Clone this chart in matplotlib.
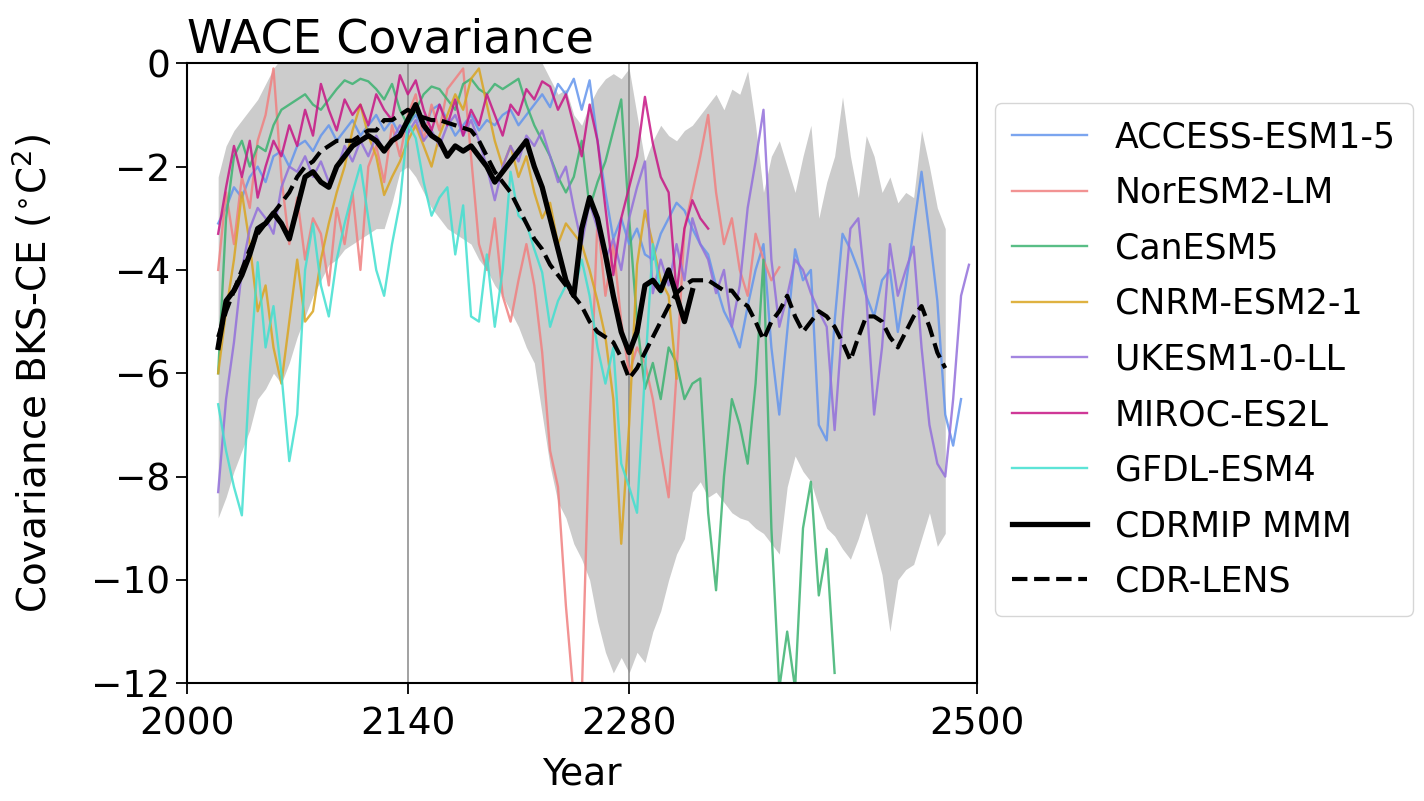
import numpy as np
import matplotlib
matplotlib.use("Agg")
import matplotlib.pyplot as plt

step = 5

access_start = 2020
access = [-3.1, -2.8, -2.4, -2.6, -2.2, -2.0, -2.3, -1.8, -1.7, -2.0, -1.6, -1.5, -1.7, -1.4, -1.2, -1.5,
          -1.3, -1.1, -1.4, -1.2, -1.0, -1.3, -1.1, -1.4, -1.2, -1.0, -1.3, -0.9, -0.8, -1.1, -1.4, -1.2,
          -1.0, -1.3, -1.1, -1.2, -1.0, -0.9, -1.2, -1.0, -0.8, -0.6, -0.85, -0.4, -0.6, -0.3, -0.9, -0.33,
          -1.5, -2.5, -3.4, -3.0, -3.5, -3.2, -3.7, -3.8, -3.3, -3.0, -2.7, -2.85, -3.2, -3.5, -3.7, -4.3,
          -4.8, -5.1, -5.5, -4.7, -4.0, -3.5, -5.5, -6.8, -5.2, -3.6, -4.2, -4.0, -7.0, -7.3, -5.0, -3.3,
          -3.6, -4.0, -4.5, -4.9, -4.2, -4.0, -5.2, -4.3, -3.2, -2.1, -3.3, -4.6, -6.8, -7.4, -6.5]

noresm_start = 2020
noresm = [-4.0, -2.5, -3.5, -2.2, -2.8, -1.5, -1.0, -0.1, -2.2, -3.5, -2.6, -3.8, -3.0, -3.3, -4.3, -2.8,
          -3.5, -2.5, -4.0, -2.0, -1.6, -2.3, -1.2, -1.8, -1.0, -0.6, -1.5, -0.8, -1.3, -0.5, -0.3, -0.1,
          -1.8, -3.5, -4.0, -3.0, -4.5, -5.0, -4.2, -3.5, -4.3, -5.6, -7.5, -8.2, -10.5, -12.3, -12.3, -7.0,
          -3.0, -4.5, -3.5, -5.0, -6.0, -5.5, -5.8, -6.5, -7.5, -8.4, -6.0, -3.2, -2.5, -1.8, -1.0, -2.5,
          -3.5, -3.0, -4.0, -4.5, -3.3, -3.8, -4.2, -3.95]

canesm_start = 2020
canesm = [-6.0, -3.0, -1.8, -1.5, -2.0, -1.6, -1.7, -1.2, -0.9, -0.8, -0.7, -0.6, -0.8, -0.9, -0.7, -0.5,
          -0.33, -0.4, -0.3, -0.35, -0.5, -0.7, -0.4, -0.9, -1.2, -0.9, -0.6, -0.45, -0.5, -0.7, -0.9, -0.4,
          -0.3, -0.5, -0.6, -0.4, -0.5, -0.4, -0.3, -0.8, -1.2, -1.5, -1.8, -2.2, -2.5, -2.2, -1.5, -2.8,
          -2.3, -1.9, -1.3, -0.7, -3.0, -5.0, -6.3, -5.8, -6.5, -5.5, -5.8, -6.5, -6.2, -6.1, -8.7, -10.2,
          -8.0, -6.5, -7.0, -7.75, -6.2, -3.8, -9.0, -12.1, -11.0, -12.1, -9.0, -8.1, -10.3, -9.4, -11.8]

cnrm_start = 2020
cnrm = [-6.0, -4.8, -3.8, -2.5, -3.5, -4.8, -4.3, -5.5, -6.2, -5.0, -3.8, -5.0, -4.8, -3.8, -3.1, -2.5,
        -2.0, -1.3, -0.8, -1.4, -1.8, -2.55, -2.2, -1.9, -1.5, -1.2, -1.6, -2.0, -1.4, -1.0, -0.6, -0.9,
        -0.3, -0.1, -0.8, -1.5, -2.0, -1.6, -2.2, -1.8, -2.5, -3.0, -2.7, -3.5, -3.1, -3.3, -3.5, -4.0,
        -4.6, -5.3, -6.5, -9.3, -7.0, -3.9, -2.85, -3.5, -4.2, -4.5, -6.1]

ukesm_start = 2020
ukesm = [-8.3, -6.5, -5.4, -4.0, -3.2, -2.8, -3.0, -3.3, -2.4, -2.0, -2.1, -1.8, -2.2, -1.9, -2.3, -2.07,
         -1.6, -1.9, -1.5, -1.8, -1.4, -1.7, -1.5, -1.2, -1.36, -1.1, -1.5, -1.3, -1.6, -1.2, -1.0, -1.4,
         -1.1, -1.5, -2.0, -2.65, -2.0, -1.6, -1.9, -1.4, -1.6, -1.3, -1.8, -2.3, -2.0, -2.8, -3.5, -2.7,
         -3.2, -3.8, -3.4, -4.0, -3.0, -2.4, -1.9, -4.45, -3.8, -4.3, -3.5, -4.2, -3.0, -3.5, -3.8, -4.45,
         -4.0, -5.1, -4.3, -2.8, -1.9, -0.9, -3.8, -5.1, -4.5, -3.8, -4.0, -4.45, -4.8, -5.1, -7.1, -5.0,
         -3.2, -3.0, -4.5, -6.8, -5.5, -3.5, -4.5, -4.0, -3.55, -5.5, -7.0, -7.75, -8.0, -6.5, -4.5, -3.9]

miroc_start = 2020
miroc = [-3.3, -2.4, -1.6, -2.2, -1.5, -2.6, -2.0, -1.5, -1.8, -1.2, -1.6, -0.9, -1.4, -0.4, -0.9, -1.3,
         -0.7, -1.0, -0.8, -1.2, -0.6, -0.9, -1.1, -0.23, -0.6, -0.33, -0.9, -1.3, -0.8, -1.2, -0.7, -1.4,
         -0.9, -1.2, -0.6, -1.0, -1.4, -0.8, -1.0, -0.5, -0.7, -0.35, -0.45, -0.9, -0.6, -1.2, -1.8, -0.8,
         -1.5, -2.8, -4.1, -3.0, -2.4, -1.8, -0.65, -1.55, -2.2, -2.5, -4.45, -3.2, -2.65, -3.0, -3.2]

gfdl_start = 2020
gfdl = [-6.6, -7.5, -8.2, -8.75, -6.0, -3.85, -5.5, -4.7, -6.0, -7.7, -6.8, -4.0, -3.1, -4.3, -4.9, -3.8,
        -3.1, -2.5, -1.97, -3.0, -4.0, -4.5, -3.5, -2.7, -1.15, -1.45, -2.3, -2.95, -2.6, -2.4, -3.7, -2.75,
        -4.9, -5.0, -3.7, -5.1, -4.0, -2.1, -2.95, -3.1, -3.6, -4.05, -5.1, -4.6, -4.3, -4.45, -3.8, -4.5,
        -5.5, -6.2, -5.5, -7.75, -8.2, -8.7, -6.0, -3.5, -4.45]

mmm_start = 2020
mmm = [-5.5, -4.6, -4.4, -4.1, -3.7, -3.2, -3.1, -2.9, -3.1, -3.4, -2.8, -2.2, -2.1, -2.3, -2.4, -2.0,
       -1.8, -1.6, -1.5, -1.4, -1.5, -1.7, -1.5, -1.4, -1.1, -0.8, -1.2, -1.4, -1.5, -1.8, -1.6, -1.7,
       -1.6, -1.8, -2.0, -2.3, -2.1, -1.9, -1.7, -1.5, -2.0, -2.4, -3.0, -3.6, -4.2, -4.5, -3.2, -2.6,
       -3.0, -3.7, -4.5, -5.2, -5.6, -5.2, -4.3, -4.2, -4.4, -4.0, -4.5, -5.0, -4.4]

lens_start = 2020
lens = [-5.3, -4.8, -4.4, -4.0, -3.6, -3.3, -3.1, -2.9, -2.7, -2.5, -2.2, -2.0, -1.9, -1.7, -1.6, -1.5,
        -1.5, -1.5, -1.4, -1.3, -1.3, -1.1, -1.1, -1.0, -0.9, -1.0, -1.05, -1.1, -1.1, -1.15, -1.2, -1.25,
        -1.3, -1.5, -1.8, -2.1, -2.3, -2.5, -2.8, -3.1, -3.4, -3.6, -3.9, -4.1, -4.3, -4.5, -4.7, -5.0,
        -5.2, -5.3, -5.4, -5.7, -6.1, -5.9, -5.6, -5.3, -5.0, -4.7, -4.45, -4.3, -4.2, -4.2, -4.2, -4.3,
        -4.4, -4.4, -4.6, -4.7, -5.0, -5.35, -5.0, -4.8, -4.5, -4.9, -5.2, -5.0, -4.8, -4.9, -5.1, -5.4,
        -5.75, -5.3, -4.9, -4.9, -5.0, -5.3, -5.5, -5.2, -4.9, -4.7, -5.1, -5.6, -5.9]

band_start = 2020
band_hi = [-2.2, -1.6, -1.3, -1.1, -0.9, -0.7, -0.4, -0.1, 0.1, 0.2, 0.1, 0.2, 0.0, 0.2, 0.1, 0.2,
           0.1, 0.2, 0.1, 0.2, 0.2, 0.1, 0.2, 0.1, 0.2, 0.1, 0.2, 0.1, 0.2, 0.1, 0.2, 0.1,
           0.2, 0.1, 0.2, 0.1, 0.2, 0.1, 0.2, 0.1, 0.1, 0.0, -0.3, -0.6, -0.5, -1.0, -1.2, -0.8,
           -0.5, -0.3, -0.2, -0.3, -0.1, -1.0, -1.9, -1.5, -1.2, -1.4, -1.5, -1.3, -1.2, -1.0, -0.8, -0.6,
           -0.9, -0.5, -0.6, -0.15, -1.2, -2.5, -1.8, -1.5, -2.0, -2.5, -1.8, -1.2, -3.0, -2.3, -1.8, -0.65,
           -1.8, -2.6, -1.4, -1.8, -2.5, -2.2, -2.7, -2.5, -2.6, -1.3, -2.0, -2.8, -3.2]
band_lo = [-8.8, -8.4, -7.9, -7.5, -7.1, -6.5, -6.3, -6.0, -6.2, -5.8, -5.3, -4.9, -4.5, -4.2, -3.9, -3.8,
           -3.6, -3.5, -3.4, -3.3, -3.2, -3.2, -2.7, -2.1, -2.0, -2.2, -2.5, -2.8, -3.0, -3.2, -3.3, -3.4,
           -3.5, -3.8, -4.0, -4.3, -4.5, -4.8, -5.1, -5.5, -5.8, -6.8, -7.8, -8.5, -8.8, -9.3, -9.6, -10.0,
           -10.8, -11.4, -11.8, -11.5, -11.8, -11.4, -11.6, -11.0, -10.6, -10.0, -9.5, -9.2, -8.3, -8.1, -8.4, -8.3,
           -8.5, -8.7, -8.8, -8.85, -9.0, -9.1, -9.3, -9.5, -8.2, -7.6, -7.9, -8.1, -8.6, -9.0, -9.15, -9.4,
           -9.6, -9.2, -8.7, -9.3, -9.9, -11.0, -10.0, -9.8, -9.7, -9.2, -8.7, -9.35, -9.1]

models = [
    ("ACCESS-ESM1-5", access_start, access, "cornflowerblue"),
    ("NorESM2-LM", noresm_start, noresm, "lightcoral"),
    ("CanESM5", canesm_start, canesm, "mediumseagreen"),
    ("CNRM-ESM2-1", cnrm_start, cnrm, "goldenrod"),
    ("UKESM1-0-LL", ukesm_start, ukesm, "mediumpurple"),
    ("MIROC-ES2L", miroc_start, miroc, "mediumvioletred"),
    ("GFDL-ESM4", gfdl_start, gfdl, "turquoise"),
]

xticks = [2000, 2140, 2280, 2500]
yticks = [0, -2, -4, -6, -8, -10, -12]
markers = [2140, 2280]


def years(start, vals):
    return start + step * np.arange(len(vals))


fig = plt.figure(figsize=(14.24, 8.01), dpi=100)
ax = fig.add_axes([0.131, 0.147, 0.555, 0.774])

ax.fill_between(years(band_start, band_hi), band_lo, band_hi, color="grey", alpha=0.4, lw=0, zorder=1)
for m in markers:
    ax.axvline(m, color="grey", lw=1.3, alpha=0.8, zorder=1.5)

for name, start, vals, col in models:
    ax.plot(years(start, vals), vals, color=col, lw=1.7, alpha=0.85, label=name, zorder=2)

ax.plot(years(mmm_start, mmm), mmm, color="black", lw=3.8, label="CDRMIP MMM", zorder=3)
ax.plot(years(lens_start, lens), lens, color="black", lw=3.0, ls="--", label="CDR-LENS", zorder=3)

ax.set_xlim(2000, 2500)
ax.set_ylim(-12, 0)
ax.set_xticks(xticks)
ax.set_yticks(yticks)
ax.tick_params(labelsize=27, length=8, width=1.3)
ax.tick_params(axis="x", pad=9)
for s in ax.spines.values():
    s.set_linewidth(1.5)

ax.set_xlabel("Year", fontsize=27, labelpad=10)
ax.set_ylabel(r"Covariance BKS-CE ($^{\circ}$C$^2$)", fontsize=28, labelpad=26)
ax.set_title("WACE Covariance", loc="left", fontsize=33, pad=8)

fig.legend(loc="upper left", bbox_to_anchor=(0.6987, 0.8714), borderaxespad=0, fontsize=25,
           handlelength=2.15, labelspacing=0.62, borderpad=0.5)

fig.savefig("out.png", dpi=100)
